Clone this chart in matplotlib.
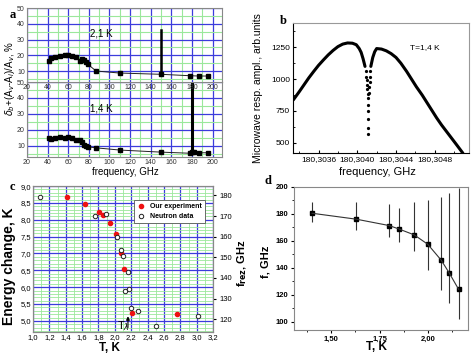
import matplotlib
matplotlib.use('Agg')
import matplotlib.pyplot as plt
from matplotlib.ticker import MultipleLocator, FuncFormatter, FixedLocator

plt.rcParams['font.family'] = ['Liberation Sans', 'DejaVu Sans']

# ---------------- data ----------------
# panel a
freq_21 = [41, 43, 47, 52, 57, 60, 64, 68, 71, 73, 75, 77, 79, 87, 110, 150, 178, 187, 196]
amp_21 = [16.6, 18.3, 19.0, 19.4, 20.0, 20.4, 19.6, 19.0, 16.2, 17.9, 16.8, 16.0, 14.3, 10.0, 8.7, 7.9, 7.0, 6.8, 6.8]
bar_21 = (150, 7.9, 36)
freq_14 = [41, 43, 47, 52, 57, 60, 64, 68, 71, 73, 75, 77, 79, 87, 110, 150, 178, 180, 182, 187, 196]
amp_14 = [14.9, 14.4, 15.1, 15.6, 15.1, 15.8, 15.1, 13.8, 13.3, 12.4, 10.7, 9.6, 9.3, 8.7, 7.3, 6.0, 5.3, 6.0, 6.0, 5.6, 5.6]
bar_14 = (180, 5.3, 52)

# panel b
b_left_f = [180.30334, 180.30340, 180.30345, 180.30350, 180.30355, 180.30360, 180.30365,
            180.30370, 180.30375, 180.30380, 180.30385, 180.30390, 180.30395, 180.30399,
            180.30402, 180.30404, 180.30406, 180.30408]
b_left_a = [837, 900, 955, 1010, 1060, 1108, 1150, 1190, 1225, 1255, 1275, 1284, 1282, 1270,
            1240, 1210, 1160, 1100]
b_dip_f = [180.304093, 180.304095, 180.304097, 180.304100, 180.304103, 180.304106,
           180.304110, 180.304112, 180.304113, 180.304114, 180.304114, 180.304114,
           180.304120, 180.304124, 180.304127, 180.304130, 180.304133]
b_dip_a = [1060, 1020, 990, 950, 920, 880, 850, 800, 750, 690, 620, 570,
           890, 940, 980, 1020, 1060]
b_right_f = [180.30414, 180.30416, 180.30418, 180.30420, 180.30425, 180.30430, 180.30435,
             180.30440, 180.30445, 180.30451, 180.30456, 180.30461, 180.30467, 180.30472,
             180.30477, 180.30482, 180.30487, 180.30492, 180.30497, 180.30502, 180.30509]
b_right_a = [1100, 1170, 1215, 1240, 1236, 1222, 1200, 1170, 1125, 1060, 1000, 940, 875, 815,
             755, 695, 640, 590, 540, 490, 419]

# panel c
t_exp = [1.41, 1.64, 1.81, 1.86, 1.935, 2.01, 2.075, 2.115, 2.21, 2.755]
e_exp = [8.68, 8.46, 8.24, 8.14, 7.90, 7.57, 7.01, 6.55, 5.22, 5.20]
t_neu = [1.08, 1.76, 1.89, 2.02, 2.077, 2.094, 2.155, 2.126, 2.167, 2.196, 2.285, 2.50, 3.01]
e_neu = [8.68, 8.11, 8.18, 7.50, 7.09, 6.92, 6.46, 5.88, 5.95, 5.38, 5.29, 4.84, 5.14]

# panel d
t_d = [1.40, 1.63, 1.80, 1.85, 1.93, 2.00, 2.07, 2.11, 2.16]
f_d = [180.3, 175.9, 171.2, 168.7, 164.3, 157.4, 145.6, 136.5, 124.1]
f_lo = [173.6, 168.0, 162.8, 159.4, 152.5, 138.4, 123.2, 113.8, 102.2]
f_hi = [188.4, 188.4, 187.2, 184.5, 188.4, 190.1, 192.0, 195.0, 198.8]

comma = lambda fmt: FuncFormatter(lambda v, p: (fmt % v).replace('.', ','))

BLUE = '#3c3cdc'
GREEN = '#9be89b'

fig = plt.figure(figsize=(4.74, 3.55), dpi=100)

# ---------------- panel a ----------------
def grid_a(ax):
    ax.set_xlim(20, 209)
    ax.set_ylim(3, 50)
    ax.xaxis.set_major_locator(MultipleLocator(20))
    ax.xaxis.set_minor_locator(MultipleLocator(10))
    ax.yaxis.set_major_locator(MultipleLocator(10))
    ax.yaxis.set_minor_locator(MultipleLocator(5))
    ax.grid(which='major', color=BLUE, lw=0.9)
    ax.grid(which='minor', color=GREEN, lw=0.8)
    ax.set_axisbelow(True)
    ax.tick_params(which='both', length=0, labelsize=5, pad=1.5, colors='#333333')
    for s in ax.spines.values():
        s.set_color('#888888')
        s.set_linewidth(0.8)

axa2 = fig.add_axes([0.057, 0.558, 0.411, 0.211])
grid_a(axa2)
axa2.plot(freq_14, amp_14, '-', color='#222222', lw=0.7)
axa2.plot(freq_14, amp_14, 's', color='black', ms=2.2)
axa2.plot([bar_14[0], bar_14[0]], [bar_14[1], bar_14[2]], color='black', lw=2.2, clip_on=True)
axa2.text(81, 33.4, '1,4 K', fontsize=7, va='center')

axa1 = fig.add_axes([0.057, 0.769, 0.411, 0.208])
axa1.set_zorder(3)
grid_a(axa1)
axa1.plot(freq_21, amp_21, '-', color='#222222', lw=0.7)
axa1.plot(freq_21, amp_21, 's', color='black', ms=2.2)
axa1.plot([bar_21[0], bar_21[0]], [bar_21[1], bar_21[2]], color='black', lw=1.8)
axa1.text(81, 33.8, '2,1 K', fontsize=7, va='center')

fig.text(0.021, 0.975, 'a', fontsize=9, fontweight='bold', family='Liberation Serif', va='top')
fig.text(0.022, 0.78, r'$\delta_b$+(A$_v$-A$_i$)/A$_v$, %', fontsize=7, rotation=90,
         ha='center', va='center')
fig.text(0.264, 0.515, 'frequency, GHz', fontsize=7, ha='center', va='center')

# ---------------- panel b ----------------
axb = fig.add_axes([0.618, 0.569, 0.372, 0.366])
axb.plot(b_left_f, b_left_a, '-', color='black', lw=2.2, solid_capstyle='round')
axb.plot(b_right_f, b_right_a, '-', color='black', lw=2.2, solid_capstyle='round')
axb.plot(b_dip_f, b_dip_a, 'o', color='black', ms=1.3)
axb.set_xlim(180.303336, 180.305156)
axb.set_ylim(420, 1440)
axb.xaxis.set_major_locator(FixedLocator([180.3036, 180.3040, 180.3044, 180.3048]))
axb.xaxis.set_major_formatter(FuncFormatter(lambda v, p: ('%.4f' % v).replace('.', ',')))
axb.xaxis.set_minor_locator(FixedLocator([180.3034, 180.3038, 180.3042, 180.3046, 180.3050]))
axb.yaxis.set_major_locator(FixedLocator([500, 750, 1000, 1250]))
axb.yaxis.set_minor_locator(FixedLocator([625, 875, 1125, 1375]))
axb.tick_params(which='major', direction='in', length=2.5, labelsize=6, pad=2)
axb.tick_params(which='minor', direction='in', length=1.5)
for s in ['top', 'right']:
    axb.spines[s].set_color('#999999')
for s in axb.spines.values():
    s.set_linewidth(0.8)
axb.text(180.3047, 1250, 'T=1,4 K', fontsize=6, ha='center', va='center')
fig.text(0.59, 0.94, 'b', fontsize=9, fontweight='bold', family='Liberation Serif', va='center')
fig.text(0.545, 0.752, 'Microwave resp. ampl., arb.units', fontsize=7.5, rotation=90,
         ha='center', va='center')
fig.text(0.797, 0.515, 'frequency, GHz', fontsize=8, ha='center', va='center')

# ---------------- panel c ----------------
axc = fig.add_axes([0.0696, 0.0648, 0.380, 0.411])
axc.set_xlim(1.0, 3.2)
axc.set_ylim(4.67, 9.0)
axc.xaxis.set_major_locator(MultipleLocator(0.2))
axc.xaxis.set_minor_locator(MultipleLocator(0.1))
axc.yaxis.set_major_locator(MultipleLocator(0.5))
axc.yaxis.set_minor_locator(MultipleLocator(0.1))
axc.xaxis.set_major_formatter(comma('%.1f'))
axc.yaxis.set_major_formatter(comma('%.1f'))
axc.grid(which='major', color=BLUE, lw=0.9)
axc.grid(which='minor', color=GREEN, lw=0.6)
axc.set_axisbelow(True)
axc.tick_params(which='both', length=0, labelsize=5.5, pad=1.5)
for s in axc.spines.values():
    s.set_color('#888888')
    s.set_linewidth(0.8)
axc.plot(t_exp, e_exp, 'o', color='#ee1111', ms=3, label='Our experiment', zorder=3)
axc.plot(t_neu, e_neu, 'o', mfc='white', mec='#222222', mew=0.7, ms=3.2, label='Neutron data', zorder=3)
leg = axc.legend(loc='upper right', bbox_to_anchor=(0.975, 0.93),
                 prop={'weight': 'bold', 'size': 5}, frameon=True, fancybox=False,
                 edgecolor='#555555', framealpha=1, handlelength=1.0, borderpad=0.5,
                 labelspacing=0.4, handletextpad=0.8)
leg.get_frame().set_linewidth(0.6)
axc.annotate('', xy=(2.16, 5.22), xytext=(2.16, 4.72),
             arrowprops=dict(arrowstyle='-|>', color='black', lw=0.8, mutation_scale=5))
axc.text(2.1, 4.85, r'T$_\lambda$', fontsize=8, ha='center', va='center')

axc2 = axc.twinx()
axc2.set_ylim(113.8, 184.5)
axc2.yaxis.set_major_locator(MultipleLocator(10))
axc2.tick_params(axis='y', direction='out', length=2.5, labelsize=5.5, pad=2)
for s in axc2.spines.values():
    s.set_color('#888888')
    s.set_linewidth(0.8)

fig.text(0.021, 0.473, 'c', fontsize=9, fontweight='bold', family='Liberation Serif', va='center')
fig.text(0.018, 0.25, 'Energy change, K', fontsize=10, fontweight='bold', rotation=90,
         ha='center', va='center')
fig.text(0.232, 0.02, 'T, K', fontsize=8.5, fontweight='bold', ha='center', va='center')
fig.text(0.51, 0.26, r'f$_{\mathbf{rez}}$, GHz', fontsize=8, fontweight='bold', rotation=90,
         ha='center', va='center')

# ---------------- panel d ----------------
axd = fig.add_axes([0.620, 0.0704, 0.367, 0.404])
yerr = [[f - lo for f, lo in zip(f_d, f_lo)], [hi - f for f, hi in zip(f_d, f_hi)]]
axd.errorbar(t_d, f_d, yerr=yerr, fmt='-', color='#333333', lw=0.8, elinewidth=0.8,
             capsize=0)
axd.plot(t_d, f_d, 's', color='black', ms=3)
axd.set_xlim(1.306, 2.208)
axd.set_ylim(94, 200)
axd.xaxis.set_major_locator(FixedLocator([1.5, 1.75, 2.0]))
axd.xaxis.set_minor_locator(FixedLocator([1.375, 1.625, 1.875, 2.125]))
axd.xaxis.set_major_formatter(comma('%.2f'))
axd.yaxis.set_major_locator(MultipleLocator(20))
axd.yaxis.set_minor_locator(MultipleLocator(10))
axd.tick_params(which='major', direction='out', length=2.5, labelsize=5.5, pad=1.5)
axd.tick_params(which='minor', direction='out', length=1.5)
for lab in axd.get_xticklabels() + axd.get_yticklabels():
    lab.set_fontweight('bold')
for s in axd.spines.values():
    s.set_color('#888888')
    s.set_linewidth(0.8)
fig.text(0.559, 0.49, 'd', fontsize=9, fontweight='bold', family='Liberation Serif', va='center')
fig.text(0.56, 0.262, 'f, GHz', fontsize=8, fontweight='bold', rotation=90,
         ha='center', va='center')
fig.text(0.795, 0.022, 'T, K', fontsize=8.5, fontweight='bold', ha='center', va='center')

fig.savefig('out.png', dpi=100)
